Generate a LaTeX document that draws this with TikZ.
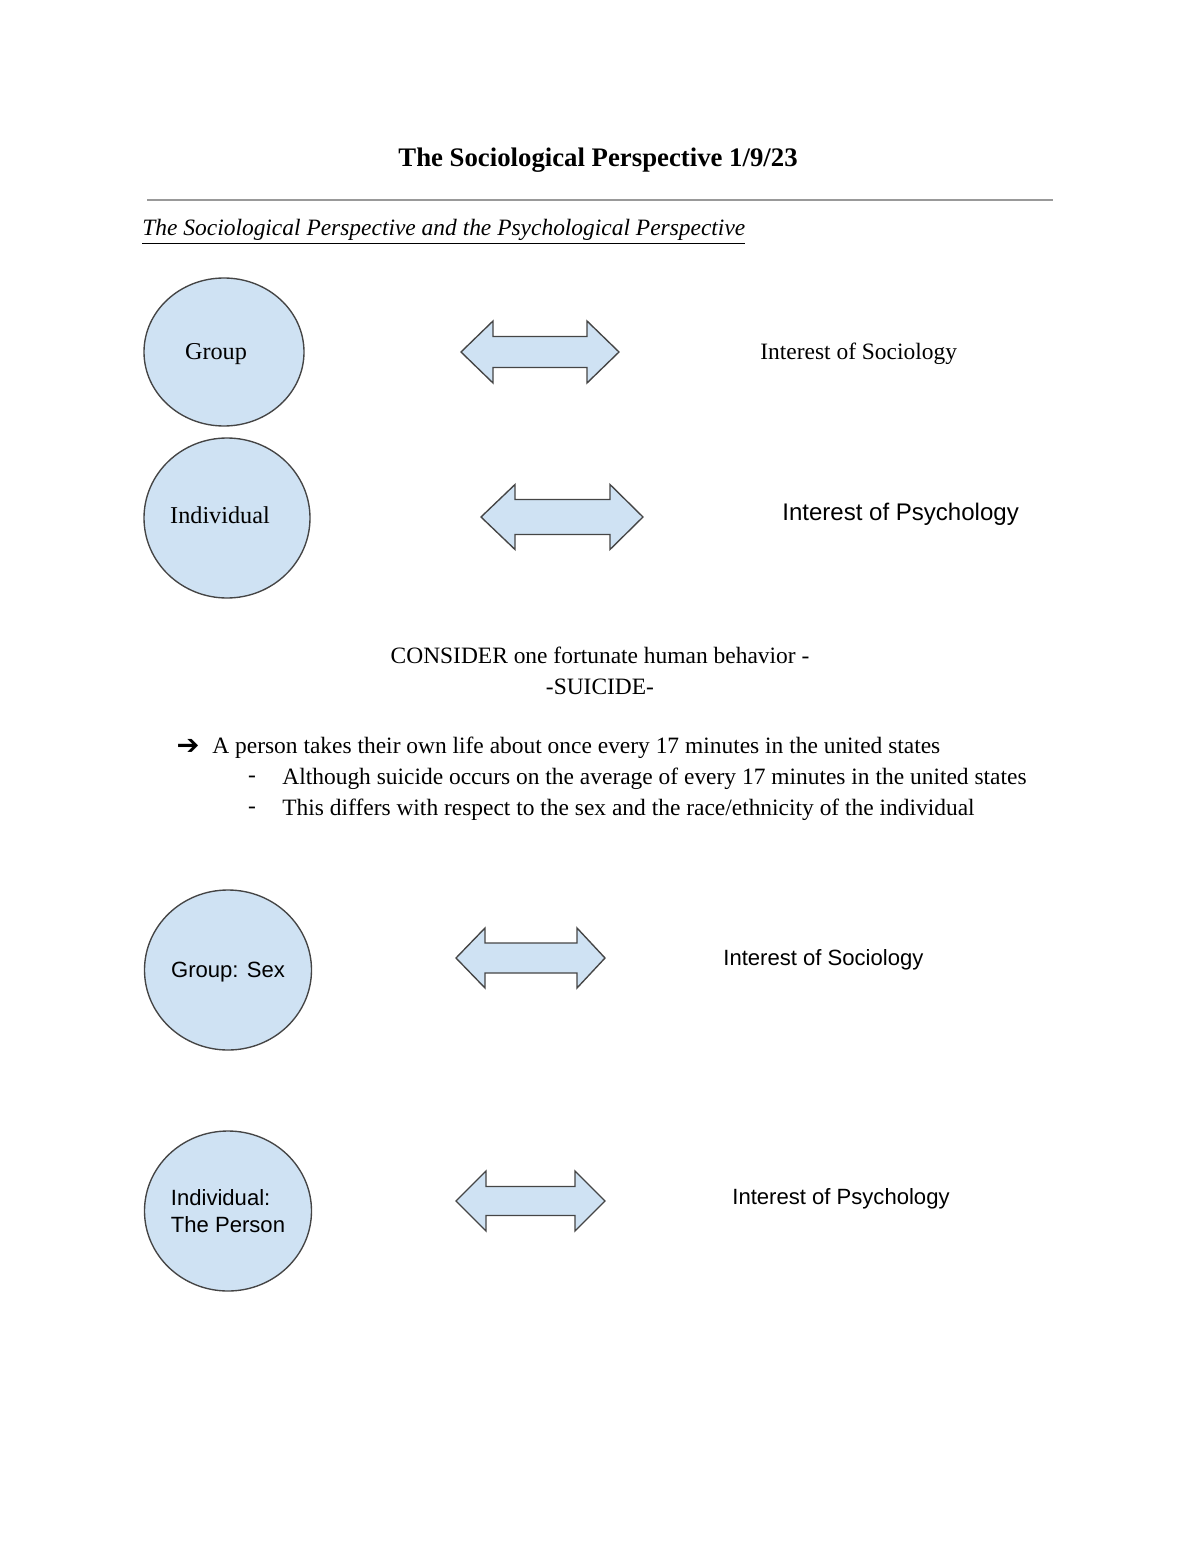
\documentclass[tikz,border=0pt]{standalone}
\usepackage{fontspec}
\setmainfont{Liberation Serif}
\newfontfamily\arialfont{Liberation Sans}
\newfontfamily\symbfont{DejaVu Sans}
\usetikzlibrary{shapes.geometric,positioning}
\newcommand{\PX}{0.01799cm}
\newcommand{\LINEPT}{0.7pt}
\definecolor{myblue}{rgb}{0.812,0.886,0.953}
\definecolor{mygray}{rgb}{0.27,0.27,0.27}
\definecolor{rulegray}{rgb}{0.6,0.6,0.6}
% block double arrow: left tip, left base, right base, right tip, centre y, shaft half, head half
\newcommand{\DBLARROW}[7]{%
	\draw[dblarrow] (#1,#5) -- (#2,{#5-#7}) -- (#2,{#5-#6}) -- (#3,{#5-#6}) -- (#3,{#5-#7}) -- (#4,#5)
		-- (#3,{#5+#7}) -- (#3,{#5+#6}) -- (#2,{#5+#6}) -- (#2,{#5+#7}) -- cycle;}

\begin{document}
\begin{tikzpicture}[x=\PX,y=-\PX,
	bubble/.style={ellipse,draw=mygray,fill=myblue,line width=\LINEPT,inner sep=0pt},
	dblarrow/.style={draw=mygray,fill=myblue,line width=\LINEPT,line join=miter},
	seriflabel/.style={font=\fontsize{12.4}{15}\selectfont,inner sep=0pt},
	arialtext/.style={font=\arialfont\fontsize{11.3}{14}\selectfont},
	bodytext/.style={font=\fontsize{12}{15}\selectfont,inner sep=0pt}]

	\useasboundingbox (0,0) rectangle (1200,1553);

	%% heading
	\node[font=\bfseries\fontsize{13.7}{16}\selectfont] (title) at (598,160) {The Sociological Perspective 1/9/23};
	\coordinate (rulel) at (147,200);
	\coordinate (ruler) at (1053,200);
	\draw[rulegray,line width=1.2pt] (rulel) -- (ruler);
	\node[bodytext,font=\itshape\fontsize{12}{15}\selectfont,anchor=west] (subtitle) at (142,232)
		{\underline{The Sociological Perspective and the Psychological Perspective}};

	%% first pair
	\node[bubble,minimum width={160*\PX},minimum height={148*\PX}] (group) at (224,352) {};
	\node[seriflabel] (grouptext) at (216,354) {Group};
	\node[bubble,minimum width={166*\PX},minimum height={160*\PX}] (indiv) at (227,518) {};
	\node[seriflabel] (indivtext) at (220,515) {Individual};
	\DBLARROW{461}{493}{587}{619}{352}{15.5}{31}
	\DBLARROW{481}{515}{610}{643}{517}{17.5}{32.5}
	\node[seriflabel,font=\fontsize{12}{15}\selectfont,anchor=west] (socio) at (760,354) {Interest of Sociology};
	\node[arialtext,font=\arialfont\fontsize{12.3}{15}\selectfont,anchor=west,inner sep=0pt] (psych) at (782,514) {Interest of Psychology};

	%% suicide text
	\node[bodytext] (consider) at (600,655) {CONSIDER one fortunate human behavior -};
	\node[bodytext] (suicide) at (600,687) {-SUICIDE-};
	\node[inner sep=0pt,font=\symbfont\bfseries\fontsize{14}{16}\selectfont] (bullet) at (188,747) {➔};
	\node[bodytext,anchor=west] (fact) at (212,748) {A person takes their own life about once every 17 minutes in the united states};
	\node[bodytext] (dashA) at (252,779) {-};
	\node[bodytext,anchor=west] (factA) at (282,779) {Although suicide occurs on the average of every 17 minutes in the united states};
	\node[bodytext] (dashB) at (252,810) {-};
	\node[bodytext,anchor=west] (factB) at (282,810) {This differs with respect to the sex and the race/ethnicity of the individual};

	%% second pair
	\node[bubble,minimum width={167*\PX},minimum height={160*\PX}] (sex) at (228,970) {};
	\node[arialtext,inner sep=0pt] (sextext) at (228,972) {Group: Sex};
	\node[bubble,minimum width={167*\PX},minimum height={160*\PX},arialtext,align=left] (person) at (228,1211) {Individual:\\The Person};
	\DBLARROW{456}{485}{577}{605}{958}{15}{30}
	\DBLARROW{456}{486}{575}{605}{1201}{14.5}{30}
	\node[arialtext,anchor=west,inner sep=0pt] (sexsocio) at (723,960) {Interest of Sociology};
	\node[arialtext,anchor=west,inner sep=0pt] (personpsych) at (732,1199) {Interest of Psychology};

\end{tikzpicture}
\end{document}
